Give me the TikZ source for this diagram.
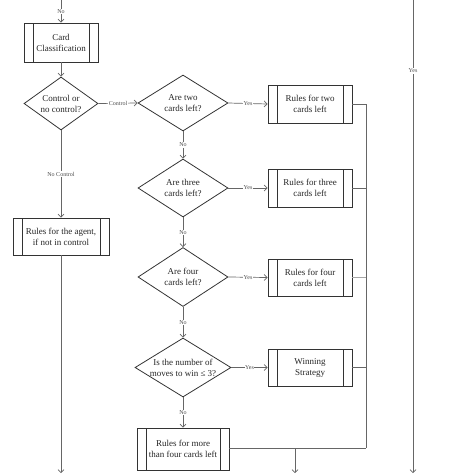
\documentclass[tikz,border=0pt]{standalone}
\usepackage{fontspec}
\setmainfont{Liberation Serif}
\usetikzlibrary{shapes.geometric,arrows.meta,calc}
\begin{document}
\begin{tikzpicture}[x=1pt,y=-1pt,
  line/.style={draw=black!60, line width=0.7pt},
  arr/.style={line, -{Straight Barb[length=3pt,width=6pt]}},
  lbl/.style={fill=white, font=\fontsize{6}{7}\selectfont, text=black!70, inner sep=0.6pt},
  txt/.style={font=\fontsize{9}{11}\selectfont, align=center, text=black!85},
  proc/.style 2 args={draw=black!80, line width=0.8pt, rectangle, minimum width=#1, minimum height=#2,
    inner sep=0pt, txt,
    path picture={\draw[black!80, line width=0.8pt]
      ([xshift=9pt]path picture bounding box.north west) -- ([xshift=9pt]path picture bounding box.south west)
      ([xshift=-9pt]path picture bounding box.north east) -- ([xshift=-9pt]path picture bounding box.south east);}},
  dia/.style 2 args={draw=black!80, line width=0.8pt, diamond, minimum width=#1, minimum height=#2, inner sep=0pt},
  dlab/.style={label={[txt]center:#1}}
]
\useasboundingbox (0,0) rectangle (474,474);

% nodes
\node[proc={74pt}{39pt}] (cc) at (61,42.5) {Card\\Classification};
\node[dia={74pt}{53pt}, dlab={Control or\\no control?}] (d1) at (61,103.5) {};
\node[dia={90pt}{56pt}, dlab={Are two\\cards left?}] (d2) at (183,103) {};
\node[dia={90pt}{58pt}, dlab={Are three\\cards left?}] (d3) at (183,188) {};
\node[dia={90pt}{59pt}, dlab={Are four\\cards left?}] (d4) at (183,277) {};
\node[dia={96pt}{59pt}, dlab={Is the number of\\moves to win ≤ 3?}] (d5) at (183,367.5) {};
\node[proc={84pt}{38pt}] (b2) at (310,104) {Rules for two\\cards left};
\node[proc={84pt}{38pt}] (b3) at (310,188) {Rules for three\\cards left};
\node[proc={84pt}{37pt}] (b4) at (310,277.5) {Rules for four\\cards left};
\node[proc={84pt}{37pt}] (b5) at (310,367.5) {Winning\\Strategy};
\node[proc={92pt}{42pt}] (b6) at (183,449) {Rules for more\\than four cards left};
\node[proc={96pt}{37pt}] (ag) at (61,236.5) {Rules for the agent,\\if not in control};

% coordinates
\coordinate (top) at (61,0);
\coordinate (agout) at (61,473);
\coordinate (j) at (366,448);
\coordinate (m) at (295,448);
\coordinate (mout) at (295,473);
\coordinate (rtop) at (413,0);
\coordinate (rbot) at (413,473);

% connectors
\draw[arr] (top) -- node[lbl, pos=0.5]{No} (cc.north);
\draw[arr] (cc.south) -- (d1.north);
\draw[arr] (d1.east) -- node[lbl]{Control} (d2.west);
\draw[arr] (d1.south) -- node[lbl, pos=0.5]{No Control} (ag.north);
\draw[arr] (ag.south) -- (agout);
\draw[arr] (d2.east) -- node[lbl]{Yes} (b2.west);
\draw[arr] (d3.east) -- node[lbl]{Yes} (b3.west);
\draw[arr] (d4.east) -- node[lbl]{Yes} (b4.west);
\draw[arr] (d5.east) -- node[lbl]{Yes} (b5.west);
\draw[arr] (d2.south) -- node[lbl]{No} (d3.north);
\draw[arr] (d3.south) -- node[lbl]{No} (d4.north);
\draw[arr] (d4.south) -- node[lbl]{No} (d5.north);
\draw[arr] (d5.south) -- node[lbl]{No} (b6.north);
\draw[line] (b2.east) -| (j);
\draw[line] (b3.east) -- (b3.east -| j);
\draw[line, draw=black!35] (b4.east) -- (b4.east -| j);
\draw[line] (b5.east) -- (b5.east -| j);
\draw[line] (b6.east |- j) -- (j);
\draw[arr] (m) -- (mout);
\draw[arr] (rtop) -- node[lbl, pos=0.15]{Yes} (rbot);
\end{tikzpicture}
\end{document}
